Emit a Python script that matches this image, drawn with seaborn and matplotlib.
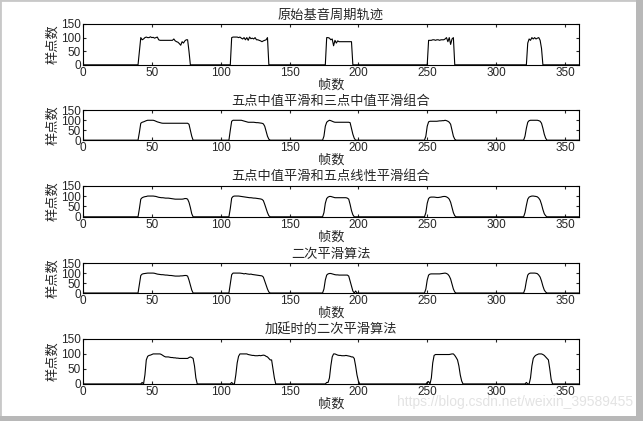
import matplotlib
matplotlib.use("Agg")
import matplotlib.pyplot as plt
import numpy as np
import pandas as pd
import seaborn as sns
from matplotlib.patches import Rectangle

# frame axis and panel titles
n_frames = 361
titles = ["原始基音周期轨迹", "五点中值平滑和三点中值平滑组合", "五点中值平滑和五点线性平滑组合",
          "二次平滑算法", "加延时的二次平滑算法"]
x_label = "帧数"
y_label = "样点数"
x_ticks = [0, 50, 100, 150, 200, 250, 300, 350]
y_ticks = [0, 50, 100, 150]

# voiced segments per panel: start frames + values (zero elsewhere)
raw_starts = [41, 108, 177, 251, 323]
raw_segments = [
    [50, 100, 92, 95, 100, 102, 100, 100, 103, 100, 101, 98, 100, 102, 92, 90, 90, 90, 90,
     90, 90, 90, 90, 90, 90, 95, 88, 85, 83, 78, 72, 85, 80, 88, 92, 92, 50, 0],
    [100, 102, 102, 102, 102, 100, 102, 98, 95, 100, 92, 100, 90, 102, 96, 98, 95, 100, 92,
     92, 90, 88, 85, 88, 90, 92, 100, 0],
    [100, 100, 98, 92, 95, 70, 90, 80, 88, 85, 85, 85, 85, 85, 85, 85, 85, 85, 85, 0],
    [90, 90, 90, 92, 92, 90, 92, 92, 90, 92, 92, 92, 95, 100, 85, 100, 75, 95, 100, 0],
    [80, 95, 90, 100, 95, 100, 95, 98, 100, 90, 60, 0],
]

med_starts = [40, 106, 174, 248, 320]
med_segments = [
    [0, 40, 85, 90, 92, 95, 98, 100, 100, 100, 100, 100, 98, 95, 92, 90, 88, 86, 85, 85, 85,
     85, 85, 85, 85, 85, 85, 85, 85, 85, 85, 85, 85, 85, 85, 85, 85, 80, 50, 20, 0],
    [0, 50, 95, 100, 100, 100, 100, 100, 100, 100, 98, 96, 94, 92, 90, 90, 90, 90, 90, 89,
     88, 88, 87, 86, 85, 82, 70, 45, 20, 5, 0],
    [0, 20, 70, 90, 96, 100, 98, 95, 92, 90, 90, 90, 90, 90, 90, 90, 90, 90, 90, 90, 88, 60,
     30, 10, 0],
    [0, 20, 70, 92, 95, 95, 95, 95, 95, 95, 96, 97, 97, 98, 98, 100, 98, 95, 90, 80, 50, 20,
     5, 0, 0],
    [0, 20, 60, 90, 98, 100, 100, 100, 100, 100, 100, 98, 95, 85, 60, 30, 10, 0, 0],
]

lin_starts = [40, 106, 174, 248, 320]
lin_segments = [
    [0, 40, 85, 92, 95, 97, 98, 100, 100, 100, 100, 100, 99, 98, 96, 94, 93, 92, 92, 91, 90,
     90, 90, 89, 88, 87, 86, 85, 85, 85, 85, 85, 85, 86, 88, 88, 85, 70, 45, 15, 0],
    [0, 40, 90, 98, 100, 100, 100, 100, 99, 98, 97, 96, 95, 94, 93, 92, 92, 91, 90, 90, 89,
     88, 87, 86, 84, 78, 60, 40, 20, 5, 0],
    [0, 20, 65, 88, 95, 98, 98, 96, 94, 92, 92, 92, 92, 92, 92, 92, 92, 92, 90, 85, 60, 30,
     10, 0, 0],
    [0, 20, 65, 88, 94, 95, 95, 95, 94, 93, 93, 94, 95, 97, 98, 98, 96, 92, 85, 70, 45, 20,
     5, 0, 0],
    [0, 20, 55, 85, 95, 98, 100, 100, 99, 98, 96, 90, 80, 60, 35, 15, 5, 0, 0],
]

twice_starts = [40, 106, 174, 248, 320]
twice_segments = [
    [0, 45, 88, 95, 97, 98, 99, 100, 100, 100, 100, 100, 99, 97, 95, 94, 93, 92, 92, 91, 90,
     90, 89, 88, 88, 87, 86, 85, 85, 85, 85, 86, 86, 87, 88, 88, 85, 65, 40, 15, 0],
    [0, 45, 92, 100, 100, 100, 100, 100, 100, 99, 98, 96, 98, 96, 95, 94, 95, 93, 92, 91, 90,
     89, 88, 87, 86, 80, 60, 40, 20, 5, 0],
    [0, 20, 65, 90, 96, 98, 98, 96, 94, 92, 91, 91, 90, 90, 90, 90, 90, 90, 90, 85, 60, 35,
     10, 0, 10, 0],
    [0, 20, 65, 90, 95, 96, 96, 96, 96, 96, 96, 96, 97, 98, 99, 100, 98, 94, 85, 70, 45, 20,
     5, 0, 0],
    [0, 20, 60, 90, 98, 100, 100, 100, 100, 99, 97, 90, 80, 60, 35, 15, 5, 0, 0],
]

delay_starts = [42, 107, 176, 249, 321]
delay_segments = [
    [0, 5, 0, 30, 80, 92, 95, 96, 98, 100, 100, 100, 100, 100, 100, 98, 95, 92, 90, 90, 90,
     89, 88, 88, 87, 87, 86, 86, 85, 85, 85, 85, 85, 85, 85, 88, 90, 88, 85, 60, 20, 0, 0],
    [0, 5, 0, 0, 30, 70, 92, 100, 100, 100, 100, 100, 100, 98, 97, 96, 95, 95, 94, 94, 94,
     95, 94, 95, 96, 95, 92, 90, 85, 80, 80, 50, 20, 0, 0],
    [0, 5, 5, 20, 60, 90, 100, 100, 98, 96, 95, 95, 94, 94, 94, 95, 94, 93, 92, 90, 90, 85,
     60, 30, 10, 0, 0],
    [0, 5, 8, 0, 20, 70, 95, 98, 98, 98, 98, 98, 98, 98, 98, 98, 98, 98, 99, 100, 100, 95,
     88, 80, 60, 30, 10, 0, 0],
    [0, 5, 0, 0, 20, 60, 85, 92, 96, 98, 100, 100, 100, 98, 95, 90, 85, 80, 50, 15, 0, 0],
]

panels = [
    (raw_starts, raw_segments),
    (med_starts, med_segments),
    (lin_starts, lin_segments),
    (twice_starts, twice_segments),
    (delay_starts, delay_segments),
]

# axes boxes in figure fraction [left, bottom, width, height]
boxes = [
    [0.129, 0.846, 0.771, 0.097],
    [0.129, 0.667, 0.771, 0.071],
    [0.129, 0.485, 0.771, 0.074],
    [0.129, 0.304, 0.771, 0.071],
    [0.129, 0.088, 0.771, 0.107],
]


def build_track(starts, segments):
    track = np.zeros(n_frames)
    for start, values in zip(starts, segments):
        track[start:start + len(values)] = values
    return pd.DataFrame({"frame": np.arange(n_frames), "value": track})


sns.set_style("ticks")
plt.rcParams["font.family"] = ["Liberation Sans", "Noto Sans CJK SC", "DejaVu Sans"]
plt.rcParams["xtick.direction"] = "in"
plt.rcParams["ytick.direction"] = "in"

fig = plt.figure(figsize=(6.43, 4.21), dpi=100)
fig.patch.set_facecolor("white")

for (starts, segments), box, title in zip(panels, boxes, titles):
    ax = fig.add_axes(box)
    data = build_track(starts, segments)
    sns.lineplot(data=data, x="frame", y="value", ax=ax, color="black", linewidth=0.8)
    ax.set_xlim(0, 360)
    ax.set_ylim(0, 150)
    ax.set_xticks(x_ticks)
    ax.set_yticks(y_ticks)
    ax.tick_params(labelsize=8.5, length=2.5, width=0.8, top=True, right=True, pad=1.5)
    ax.set_title(title, fontsize=9.5, pad=4)
    ax.set_xlabel(x_label, fontsize=9.5, labelpad=0)
    ax.set_ylabel(y_label, fontsize=9.5, labelpad=1)
    for spine in ax.spines.values():
        spine.set_linewidth(0.8)
        spine.set_color("black")

# screenshot window frame and watermark
fig.patches.append(Rectangle((0, 0), 1, 1, transform=fig.transFigure,
                             fill=False, edgecolor="#c8c8c8", linewidth=2, zorder=0))
fig.patches.append(Rectangle((636 / 643, 0), 7 / 643, 1, transform=fig.transFigure,
                             facecolor="#b8b8b8", edgecolor="none", zorder=0))
fig.patches.append(Rectangle((0, 0), 1, 5 / 421, transform=fig.transFigure,
                             facecolor="#b8b8b8", edgecolor="none", zorder=0))
fig.text(0.985, 0.045, "https://blog.csdn.net/weixin_39589455", ha="right", va="center",
         fontsize=10, color="#e3e3e3", family=["Liberation Sans", "DejaVu Sans"])

fig.savefig("out.png", dpi=100)
plt.close(fig)
